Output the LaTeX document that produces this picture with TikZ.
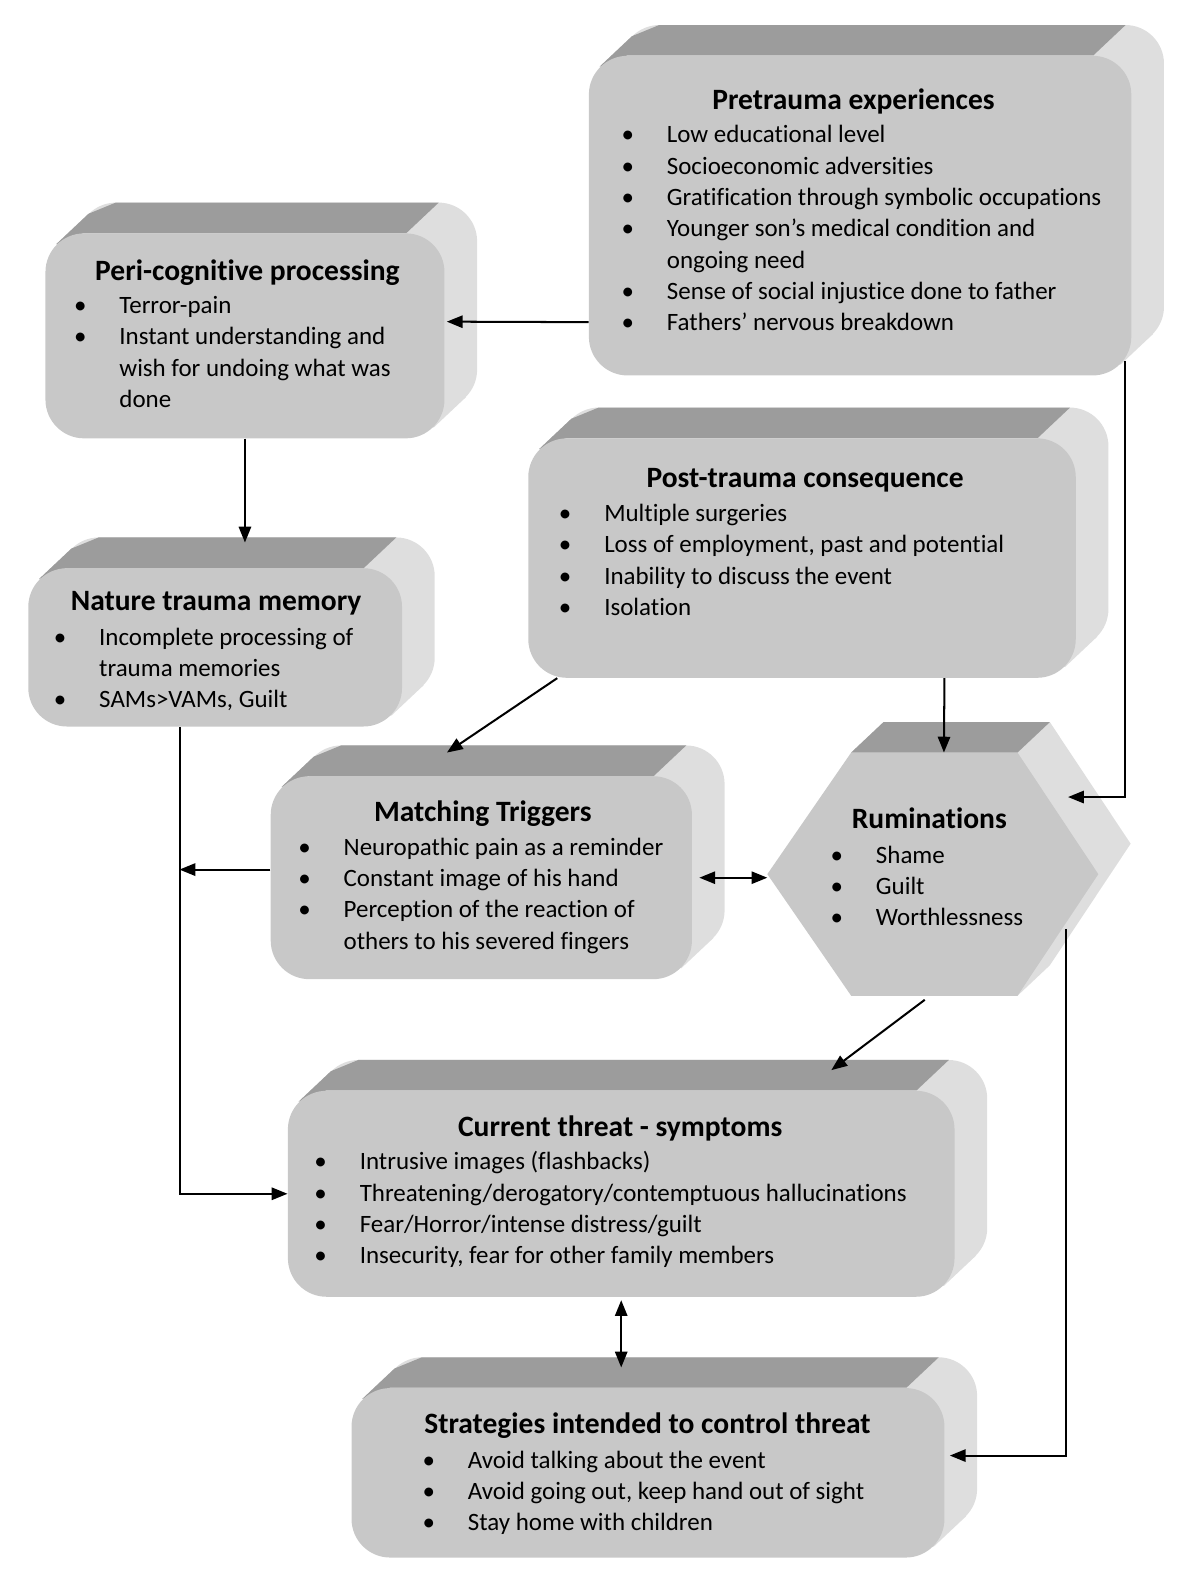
\documentclass[tikz,border=0pt]{standalone}
\usepackage{fontspec}
\setmainfont{Carlito}[Ligatures=NoCommon]
\usetikzlibrary{calc,fit,backgrounds,arrows.meta}

\definecolor{facegray}{RGB}{200,200,200}
\definecolor{topgray}{RGB}{156,156,156}
\definecolor{sidegray}{RGB}{222,222,222}

\newcommand{\bul}{\strut\makebox[25.8pt][l]{\textbullet}}
\newcommand{\cont}{\strut\hspace*{25.8pt}}

% depth of a rounded box, drawn behind its face node
\newcommand{\slab}[1]{%
  \begin{scope}[on background layer]
    \fill[sidegray,rounded corners=22pt] ($(#1.north west)+(32,-30)$) rectangle ($(#1.south east)+(32,-30)$);
    \fill[sidegray] ($(#1.north west)+(11,11)$) -- ++(32,-30) -- ($(#1.south east)+(21,-41)$) -- ($(#1.south east)+(-11,-11)$) -- cycle;
    \fill[topgray] ($(#1.north west)+(11,11)$) -- ++(32,-30) -- ($(#1.north west)+(70,-30)$) -- ($(#1.north east)+(-6,-30)$) -- ($(#1.north east)+(-38,0)$) -- ($(#1.north west)+(38,0)$) -- cycle;
  \end{scope}}

\tikzset{
  face/.style={fill=facegray, draw=none, rounded corners=22pt, inner sep=0pt},
  head/.style={font=\fontsize{16.8}{20}\selectfont\bfseries, inner sep=0pt, anchor=base},
  items/.style={font=\fontsize{14.2}{17.8}\selectfont, align=left, inner sep=0pt, anchor=north west},
  link/.style={-{Triangle[length=9pt,width=7pt]}, line width=1.15pt},
  twoway/.style={{Triangle[length=9pt,width=7pt]}-{Triangle[length=9pt,width=7pt]}, line width=1.15pt}
}

\begin{document}
\begin{tikzpicture}[x=0.0202cm, y=-0.0203cm]
  \useasboundingbox (0,0) rectangle (1188,1567);

  % faces
  \node[face, fit={(583,55) (1120,370)}] (pre) {};     \slab{pre}
  \node[face, fit={(45,230) (440,432)}] (peri) {};     \slab{peri}
  \node[face, fit={(523,432) (1065,668)}] (post) {};   \slab{post}
  \node[face, fit={(28,560) (398,716)}] (nat) {};      \slab{nat}
  \node[face, fit={(268,765) (685,965)}] (trig) {};    \slab{trig}
  \node[face, fit={(285,1075) (945,1278)}] (cur) {};   \slab{cur}
  \node[face, fit={(348,1368) (935,1535)}] (strat) {}; \slab{strat}

  % hexagon
  \node[inner sep=0pt, fit={(760,742) (1087,981)}] (rum) {};
  \begin{scope}[on background layer]
    \fill[sidegray] ($(rum.north west)+(83,0)$) -- ++(32,-30) -- ($(rum.north east)+(-48,-30)$) -- ($(rum.east)+(32,-30)$) -- ($(rum.south east)+(-48,-30)$) -- ($(rum.south east)+(-80,0)$) -- cycle;
    \fill[topgray] ($(rum.north west)+(83,0)$) -- ++(32,-30) -- ($(rum.north east)+(-48,-30)$) -- ($(rum.north east)+(-80,0)$) -- cycle;
  \end{scope}
  \fill[facegray] (rum.west) -- ($(rum.north west)+(83,0)$) -- ($(rum.north east)+(-80,0)$) -- (rum.east) -- ($(rum.south east)+(-80,0)$) -- ($(rum.south west)+(83,0)$) -- cycle;

  % texts
  \node[head] (preH) at (845,108) {Pretrauma experiences};
  \node[items] (preL) at (615,119) {\bul Low educational level\\
    \bul Socioeconomic adversities\\
    \bul Gratification through symbolic occupations\\
    \bul Younger son’s medical condition and\\
    \cont ongoing need\\
    \bul Sense of social injustice done to father\\
    \bul Fathers’ nervous breakdown};

  \node[head] (periH) at (245,276) {Peri-cognitive processing};
  \node[items] (periL) at (73,287) {\bul Terror-pain\\
    \bul Instant understanding and\\
    \cont wish for undoing what was\\
    \cont done};

  \node[head] (postH) at (797,480) {Post-trauma consequence};
  \node[items] (postL) at (553,492) {\bul Multiple surgeries\\
    \bul Loss of employment, past and potential\\
    \bul Inability to discuss the event\\
    \bul Isolation};

  \node[head] (natH) at (214,602) {Nature trauma memory};
  \node[items] (natL) at (53,614) {\bul Incomplete processing of\\
    \cont trauma memories\\
    \bul SAMs>VAMs, Guilt};

  \node[head] (trigH) at (478,810) {Matching Triggers};
  \node[items] (trigL) at (295,821) {\bul Neuropathic pain as a reminder\\
    \bul Constant image of his hand\\
    \bul Perception of the reaction of\\
    \cont others to his severed fingers};

  \node[head] (rumH) at (920,817) {Ruminations};
  \node[items] (rumL) at (822,829) {\bul Shame\\
    \bul Guilt\\
    \bul Worthlessness};

  \node[head] (curH) at (614,1120) {Current threat - symptoms};
  \node[items] (curL) at (311,1131) {\bul Intrusive images (flashbacks)\\
    \bul Threatening/derogatory/contemptuous hallucinations\\
    \bul Fear/Horror/intense distress/guilt\\
    \bul Insecurity, fear for other family members};

  \node[head] (stratH) at (641,1413) {Strategies intended to control threat};
  \node[items] (stratL) at (418,1425) {\bul Avoid talking about the event\\
    \bul Avoid going out, keep hand out of sight\\
    \bul Stay home with children};

  % connectors
  \draw[link] ($(pre.west)+(0,105)$) -- ($(peri.east)+(2,-14)$);
  \draw[link] ($(pre.south east)+(-7,-15)$) |- ($(rum.east)+(-30,-76)$);
  \draw[link] (peri.south) -- ($(peri.south |- nat.north)+(0,-25)$);
  \draw[link] ($(post.south west)+(29,0)$) -- ($(trig.north)+(-34,-23)$);
  \draw[link] ($(post.south)+(141,0)$) -- ($(rum.north)+(11,0)$);
  \draw[link] ($(nat.south)+(-35,0)$) |- (cur.west);
  \draw[link] ($(trig.west)+(0,-8)$) -- ($(trig.west)+(-90,-8)$);
  \draw[twoway] ($(trig.east)+(7,0)$) -- (rum.west |- trig.east);
  \draw[link] ($(rum.south)+(-8,4)$) -- ($(cur.north)+(208,-20)$);
  \draw[twoway] ($(cur.south)+(0,3)$) -- ($(cur.south |- strat.north)+(0,-20)$);
  \draw[link] ($(rum.east)+(-32,54)$) |- ($(strat.east)+(5,-17)$);
\end{tikzpicture}
\end{document}
